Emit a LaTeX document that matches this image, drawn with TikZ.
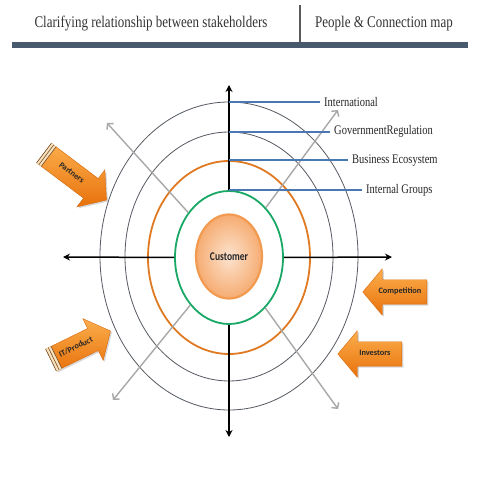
\documentclass[tikz,border=0pt]{standalone}
\usepackage{fontspec}
\setmainfont{Liberation Serif}
\newfontfamily\calfont{Carlito}
\usetikzlibrary{shapes.geometric,shapes.arrows,shadows,arrows.meta,calc}
\newcommand{\ystr}[1]{\scalebox{1}[1.25]{#1}}
\definecolor{barcol}{HTML}{4A5A6E}
\definecolor{ringgray}{HTML}{555A62}
\definecolor{ringorange}{HTML}{E07A22}
\definecolor{ringgreen}{HTML}{1AA866}
\definecolor{lblue}{HTML}{4A78B2}
\definecolor{arrgray}{HTML}{A8A8A8}
\definecolor{otop}{HTML}{FBAE4C}
\definecolor{obot}{HTML}{E8720C}
\definecolor{oedge}{HTML}{D8690C}
\definecolor{cream}{HTML}{F6E2C0}
\definecolor{brownline}{HTML}{7A4A20}
\definecolor{custin}{HTML}{FCE3CE}
\definecolor{custout}{HTML}{F6AC72}
\definecolor{custedge}{HTML}{F29A50}
\newcommand{\tailstripes}[2]{%
  \fill[cream] (#1.before tail) -- (#1.after tail) -- ($(#1.after tail)!#2!(#1.before head)$) -- ($(#1.before tail)!#2!(#1.after head)$) -- cycle;
  \foreach \f in {0,0.5,1}{
    \draw[brownline, line width=0.6pt] ($(#1.before tail)!\f*#2!(#1.after head)$) -- ($(#1.after tail)!\f*#2!(#1.before head)$);
  }}
\begin{document}
\begin{tikzpicture}[x=1pt,y=1pt,
  hdr/.style={font=\fontsize{13}{14}\selectfont, text=black!80, inner sep=0pt},
  lbl/.style={font=\fontsize{10.5}{12}\selectfont, text=black!85, inner xsep=4pt, inner ysep=1pt, anchor=west},
  ring/.style={ellipse, inner sep=0pt, draw=ringgray, line width=0.8pt},
  blueline/.style={draw=lblue, line width=2pt},
  axis/.style={draw=black, line width=1.5pt, -{Stealth[length=7pt,width=7pt]}},
  garrow/.style={draw=arrgray, line width=1.4pt, -{Straight Barb[length=4pt,width=9pt]}},
  oarrow/.style={single arrow, single arrow head extend=11pt, single arrow tip angle=100,
     draw=oedge, line width=0.4pt, top color=otop, bottom color=obot,
     text=black!85, font=\calfont\bfseries\fontsize{8.3}{9}\selectfont,
     inner ysep=8.75pt, inner xsep=4pt, text height=5pt, text depth=1.5pt,
     drop shadow={opacity=0.3, shadow xshift=1.5pt, shadow yshift=-1.5pt}, anchor=tail}
]
\useasboundingbox (0,0) rectangle (480,480);
\fill[white] (0,0) rectangle (480,480);
% header
\node[hdr] (t1) at (151,456) {\ystr{Clarifying relationship between stakeholders}};
\node[hdr] (t2) at (384,456) {\ystr{People \& Connection map}};
\node[rectangle, fill=barcol, minimum width=456pt, minimum height=6pt, inner sep=0pt] (bar) at (240,435) {};
\coordinate (vtop) at (300,475);
\draw[black!65, line width=1.5pt] (vtop) -- (vtop |- bar.north);
% rings
\node[ring, minimum width=258pt, minimum height=308pt] (outer) at (229,224) {};
\node[ring, minimum width=208pt, minimum height=249pt] (inner) at (229,223.5) {};
\node[ring, draw=ringorange, line width=1.8pt, minimum width=162pt, minimum height=193pt] (oring) at (229,222.5) {};
% tips
\coordinate (tipN) at (229,395);
\coordinate (tipS) at (229,43);
\coordinate (tipW) at (63,223);
\coordinate (tipE) at (392,223);
\coordinate (tipUL) at (107,357);
\coordinate (tipUR) at (338,370);
\coordinate (tipLL) at (113,80);
\coordinate (tipLR) at (338,71);
% green ring (white filled) and connectors
\node[ring, draw=ringgreen, line width=1.8pt, fill=white, minimum width=108pt, minimum height=133pt] (green) at (229,222.5) {};
\draw[garrow] (green) -- (tipUL);
\draw[garrow] (green) -- (tipUR);
\draw[garrow] (green) -- (tipLL);
\draw[garrow] (green) -- (tipLR);
\draw[axis] (green.north) -- (tipN);
\draw[axis] (green.south) -- (tipS);
\draw[axis] (green.west) -- (tipW);
\draw[axis] (green.east) -- (tipE);
% customer
\node[ellipse, minimum width=66pt, minimum height=84pt, inner color=custin, outer color=custout,
      draw=custedge, line width=2.2pt, font=\calfont\bfseries\fontsize{9.5}{10}\selectfont, text=black!85] (cust) at (229,223.5) {\ystr{Customer}};
% labels
\node[lbl] (intl) at ([xshift=91pt]outer.north) {\ystr{International}};
\node[lbl] (gov) at ([xshift=101pt]inner.north) {\ystr{GovernmentRegulation}};
\node[lbl] (bus) at ([xshift=119pt]oring.north) {\ystr{Business Ecosystem}};
\node[lbl] (intg) at ([xshift=133pt]green.north) {\ystr{Internal Groups}};
\draw[blueline] (outer.north) -- (intl.west);
\draw[blueline] (inner.north) -- (gov.west);
\draw[blueline] (oring.north) -- (bus.west);
\draw[blueline] (green.north) -- (intg.west);
% orange arrows
\node[oarrow, rotate=-37, minimum height=78pt] (partners) at (44,327) {Partners};
\tailstripes{partners}{0.1}
\node[oarrow, rotate=26, minimum height=66pt] (itprod) at (51,120) {IT/Product};
\tailstripes{itprod}{0.13}
\node[oarrow, shape border rotate=180, minimum height=64pt] (comp) at (427,188) {Competition};
\node[oarrow, shape border rotate=180, minimum height=64pt] (inv) at (402,126) {Investors};
\end{tikzpicture}
\end{document}
